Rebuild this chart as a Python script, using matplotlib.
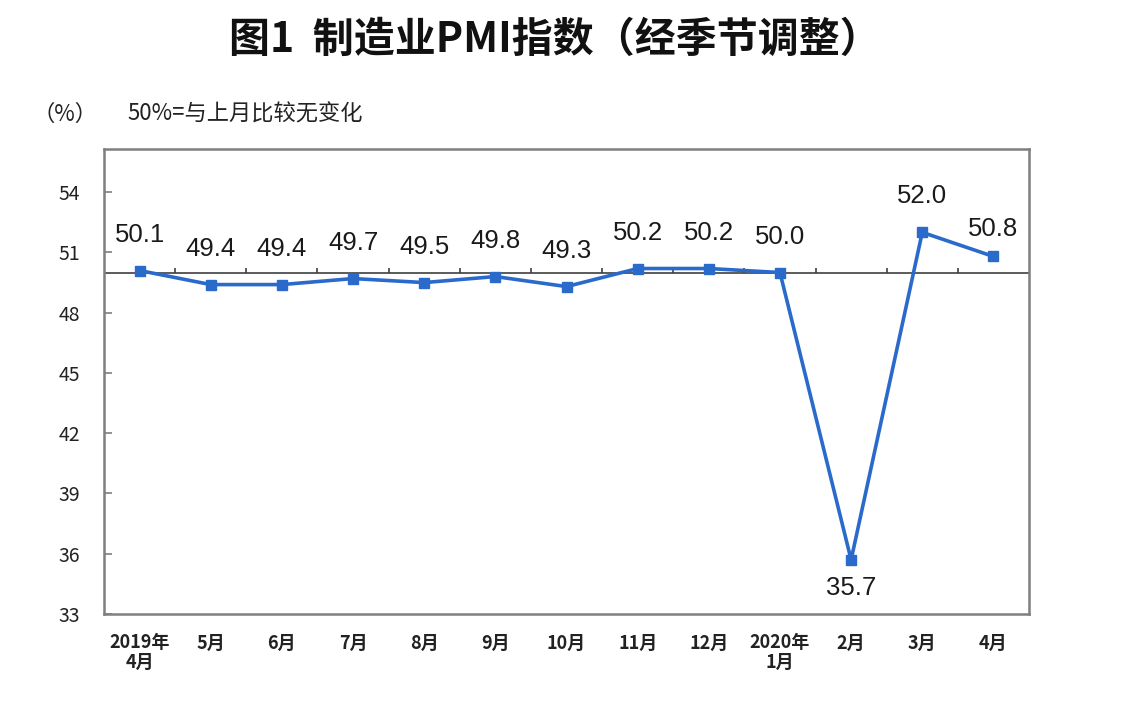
import matplotlib
matplotlib.use("Agg")
import matplotlib.pyplot as plt

plt.rcParams['font.family'] = ['Noto Sans CJK SC', 'DejaVu Sans']

categories = ["2019年\n4月", "5月", "6月", "7月", "8月", "9月", "10月",
              "11月", "12月", "2020年\n1月", "2月", "3月", "4月"]
values = [50.1, 49.4, 49.4, 49.7, 49.5, 49.8, 49.3, 50.2, 50.2, 50.0, 35.7, 52.0, 50.8]
yticks = [33, 36, 39, 42, 45, 48, 51, 54]
label_offsets = [36, 36, 36, 36, 36, 36, 36, 36, 36, 36, -28, 36, 27]

title = "图1  制造业PMI指数（经季节调整）"
unit = "（%）"
note = "50%=与上月比较无变化"

line_color = "#2a6acb"
frame_color = "#7f7f7f"

fig = plt.figure(figsize=(11.3, 7.26), dpi=100)
ax = fig.add_axes([104/1130, 1-614/726, (1029-104)/1130, (614-149)/726])

x = list(range(len(values)))
ax.plot(x, values, color=line_color, lw=2.6, marker='s', ms=6.5, zorder=3)

for xi, v, off in zip(x, values, label_offsets):
    ax.annotate(f"{v:.1f}", (xi, v), xytext=(0, off), textcoords='offset pixels',
                ha='center', va='center', fontsize=18.5, color='#1a1a1a',
                family=['Liberation Sans', 'DejaVu Sans'])

ax.set_xlim(-0.5, len(values) - 0.5)
ax.set_ylim(33, 56.15)
ax.axhline(50, color='#404040', lw=1.2, zorder=2)
ax.vlines([i + 0.5 for i in range(len(values) - 1)], 50, 50.25, color='#404040', lw=1.2, zorder=2)

ax.set_yticks(yticks)
ax.set_yticklabels([str(t) for t in yticks], fontsize=14, color='#222')
ax.tick_params(axis='y', direction='in', length=6, width=1.2, color=frame_color, pad=17)
ax.set_xticks(x)
ax.set_xticklabels(categories, fontsize=13, color='#222', linespacing=1.0, fontweight='semibold')
ax.tick_params(axis='x', length=0, pad=14)
for lab in ax.get_xticklabels():
    lab.set_verticalalignment('top')

for s in ax.spines.values():
    s.set_color(frame_color)
    s.set_linewidth(1.8)

fig.text(555/1130, 1-40/726, title, ha='center', va='center', fontsize=29.5, fontweight='semibold', color='#111')
fig.text(65/1130, 1-114/726, unit, ha='center', va='center', fontsize=16, color='#222')
fig.text(127/1130, 1-114/726, note, ha='left', va='center', fontsize=16, color='#222')

fig.savefig("out.png", dpi=100)
